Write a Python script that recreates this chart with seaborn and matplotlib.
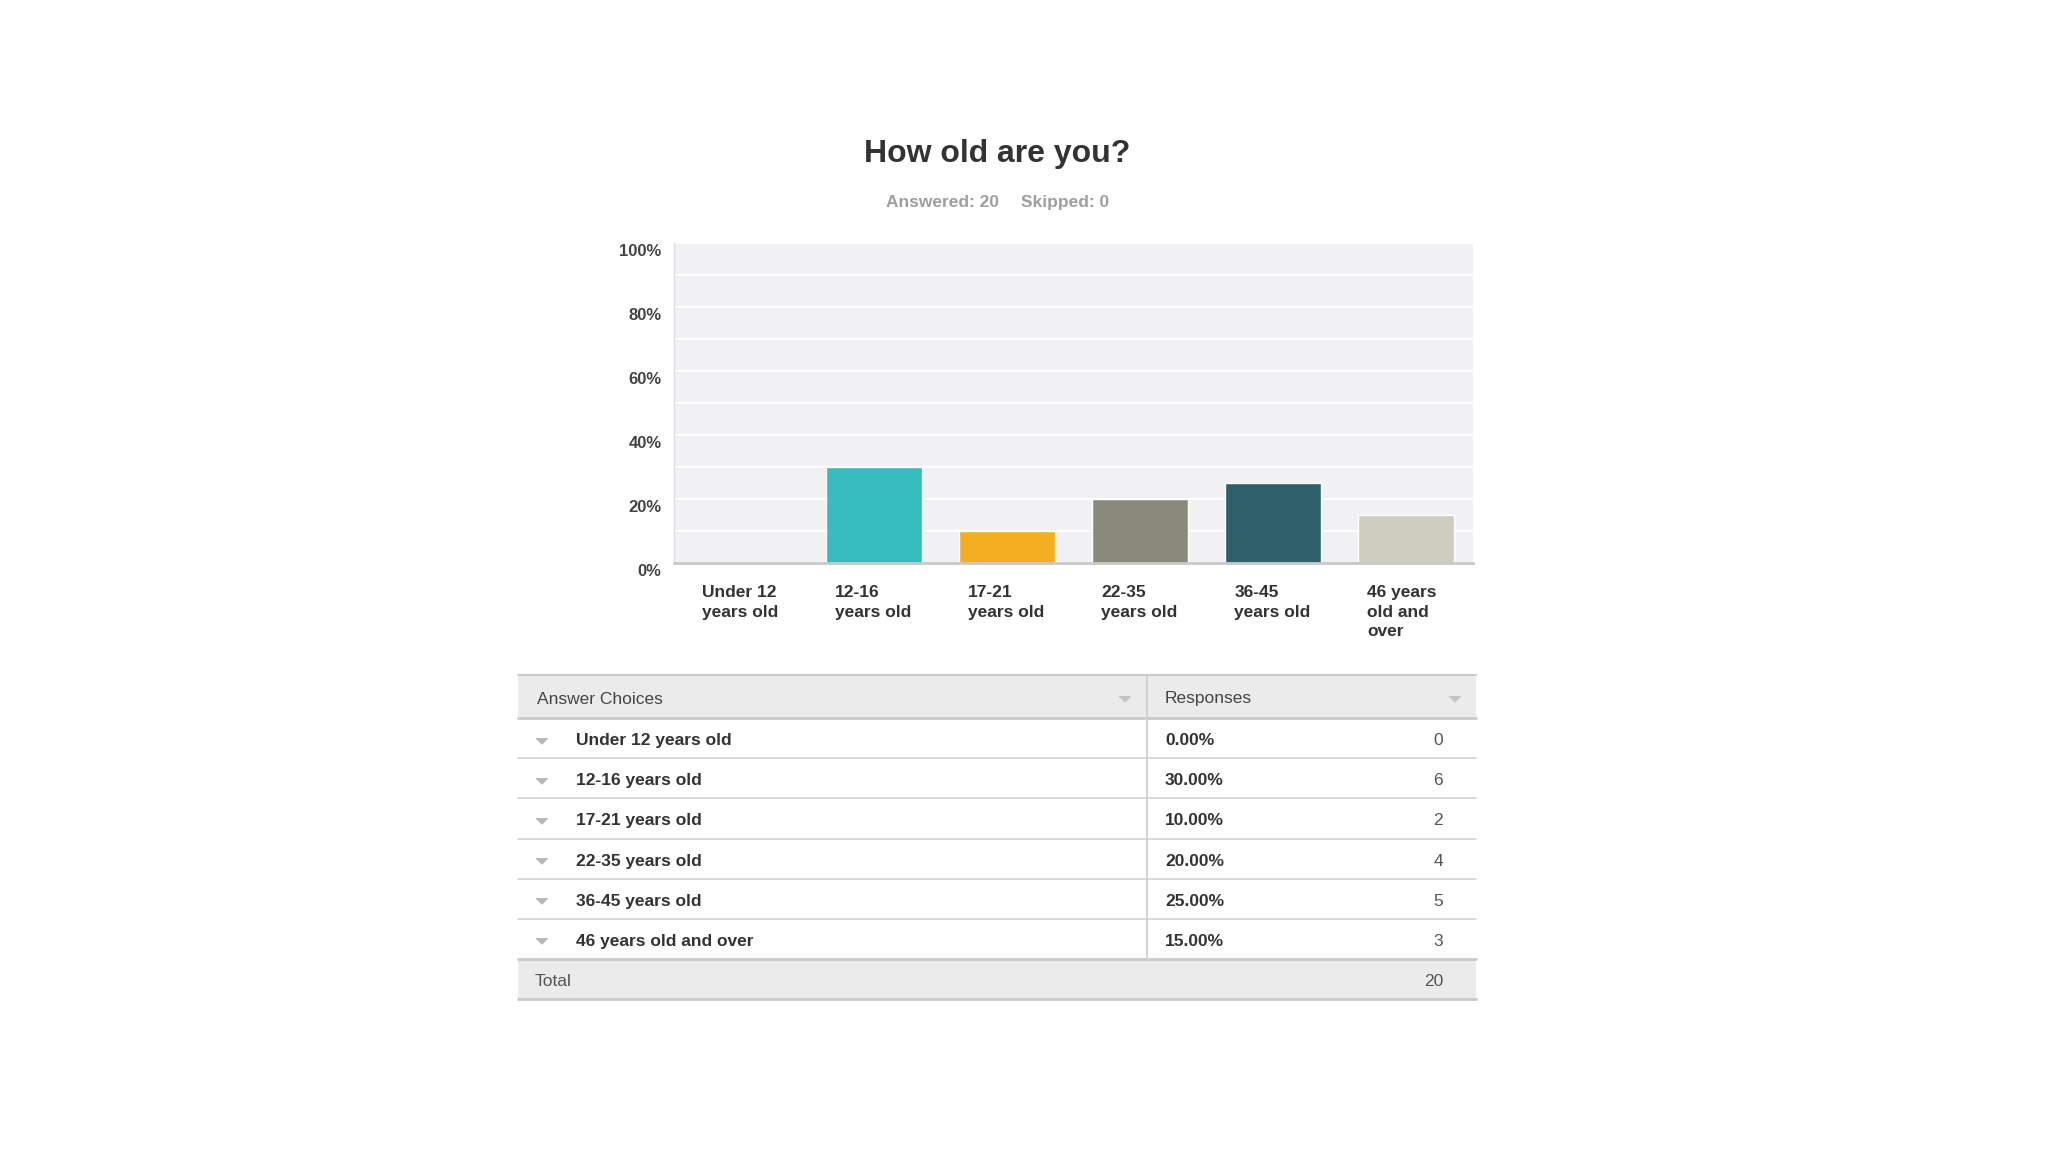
import numpy as np
import seaborn as sns
from matplotlib import pyplot as plt
from matplotlib.transforms import ScaledTranslation

# survey data
categories = ["Under 12 years old", "12-16 years old", "17-21 years old",
              "22-35 years old", "36-45 years old", "46 years old and over"]
axis_labels = ["Under 12\nyears old", "12-16\nyears old", "17-21\nyears old",
               "22-35\nyears old", "36-45\nyears old", "46 years\nold and\nover"]
shares = [0.0, 0.30, 0.10, 0.20, 0.25, 0.15]
share_labels = ["0.00%", "30.00%", "10.00%", "20.00%", "25.00%", "15.00%"]
counts = [0, 6, 2, 4, 5, 3]
total = 20
answered = 20
skipped = 0
yticks = [0, 0.2, 0.4, 0.6, 0.8, 1.0]
ytick_labels = ["0%", "20%", "40%", "60%", "80%", "100%"]
bar_colors = ["#7A8C99", "#36BCBE", "#F3AE22", "#898A7B", "#2E606C", "#CDCEBF"]

sns.set_style("white")
plt.rcParams['font.family'] = ['Liberation Sans', 'DejaVu Sans']

W, H = 2048, 1152
fig = plt.figure(figsize=(W / 100, H / 100), dpi=100)

def fx(px):
    return px / W

def fy(py):
    return 1 - py / H

# title and subtitle
fig.text(fx(997), fy(154), "How old are you?", ha='center', va='center',
         fontsize=23, fontweight='bold', color='#333333')
fig.text(fx(999), fy(207), f"Answered: {answered}", ha='right', va='baseline',
         fontsize=12.5, fontweight='bold', color='#9e9e9e')
fig.text(fx(1021), fy(207), f"Skipped: {skipped}", ha='left', va='baseline',
         fontsize=12.5, fontweight='bold', color='#9e9e9e')

# bar chart
ax = fig.add_axes([fx(674), fy(563), fx(1473) - fx(674), (563 - 243) / H])
sns.barplot(x=categories, y=shares, hue=categories, palette=bar_colors,
            legend=False, width=0.72, saturation=1, ax=ax)
ax.set_facecolor('#F1F0F2')
ax.set_xlim(-0.5, 5.5)
ax.set_ylim(0, 1)
ax.set_xlabel('')
ax.set_ylabel('')
ax.set_yticks(yticks)
ax.set_yticklabels(ytick_labels, fontsize=12, fontweight='bold', color='#444444')
ax.set_yticks(np.arange(0, 1.01, 0.1), minor=True)
ax.grid(True, which='both', axis='y', color='white', lw=1.4)
ax.grid(False, axis='x')
ax.set_axisbelow(True)
ax.set_xticks(range(len(categories)))
ax.set_xticklabels(axis_labels, ha='left', fontsize=12.5, fontweight='bold',
                   color='#333333', linespacing=1.36)
ax.tick_params(axis='both', which='both', length=0)
ax.tick_params(axis='y', pad=9)
ax.tick_params(axis='x', pad=16)
for lab in ax.get_xticklabels():
    lab.set_transform(lab.get_transform() + ScaledTranslation(-0.39, 0, fig.dpi_scale_trans))
for lab in ax.get_yticklabels():
    lab.set_transform(lab.get_transform() + ScaledTranslation(0, -0.07, fig.dpi_scale_trans))
for s in ['top', 'right']:
    ax.spines[s].set_visible(False)
ax.spines['left'].set_color('#dedede')
ax.spines['left'].set_linewidth(1)
ax.spines['bottom'].set_color('#c8c8c8')
ax.spines['bottom'].set_linewidth(2)

# response table
x0, x1, xdiv = 518, 1476, 1147
y_top, y_head, y_tot, y_bot = 675, 718, 959, 999
tab = fig.add_axes([fx(x0), fy(y_bot), fx(x1) - fx(x0), (y_bot - y_top) / H])
tab.set_xlim(x0, x1)
tab.set_ylim(y_bot, y_top)
tab.axis('off')

tab.fill_between([x0, x1], y_top, y_head, color='#EBEBEB', lw=0)
tab.fill_between([x0, x1], y_tot, y_bot, color='#EBEBEB', lw=0)
edges = np.linspace(y_head, y_tot, len(categories) + 1)
for y in edges[1:-1]:
    tab.plot([x0, x1], [y, y], color='#d6d6d6', lw=1.3, clip_on=False)
for y, lw in [(y_top, 1.5), (y_head, 2), (y_tot, 2), (y_bot, 2)]:
    tab.plot([x0, x1], [y, y], color='#cacaca', lw=lw, clip_on=False)
tab.plot([xdiv, xdiv], [y_top, y_tot], color='#d0d0d0', lw=1.3)

arrow = [(-1, 0.5), (1, 0.5), (0, -0.5)]
dy = 2.5
yh = (y_top + y_head) / 2 + dy
tab.text(537, yh, "Answer Choices", ha='left', va='center', fontsize=12.5, color='#444444')
tab.text(1165, yh, "Responses", ha='left', va='center', fontsize=12.5, color='#444444')
tab.plot([1124, 1454], [yh, yh], ls='none', marker=arrow, ms=8, color='#c4c4c4')

for i, cat in enumerate(categories):
    yc = (edges[i] + edges[i + 1]) / 2 + dy
    tab.plot(541, yc, marker=arrow, ms=8, color='#b8b8b8')
    tab.text(576, yc, cat, ha='left', va='center', fontsize=12.5,
             fontweight='bold', color='#333333')
    tab.text(1165, yc, share_labels[i], ha='left', va='center', fontsize=12.5,
             fontweight='bold', color='#333333')
    tab.text(1443, yc, str(counts[i]), ha='right', va='center', fontsize=12.5,
             color='#555555')

yt = (y_tot + y_bot) / 2 + dy
tab.text(535, yt, "Total", ha='left', va='center', fontsize=12.5, color='#555555')
tab.text(1443, yt, str(total), ha='right', va='center', fontsize=12.5, color='#555555')

fig.savefig("out.png", dpi=100)
